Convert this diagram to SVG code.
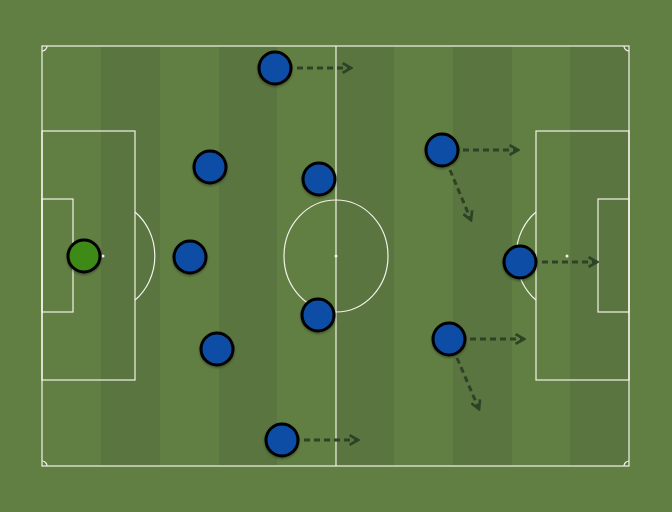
<svg xmlns="http://www.w3.org/2000/svg" width="672" height="512" viewBox="0 0 672 512">
<defs>
<style>
.line{fill:none;stroke:#f2f2ea;stroke-width:1.2}
.stripe{fill:#5a753f}
.player{fill:#0b4ea6;stroke:#000;stroke-width:3}
.gk{fill:#3c8a16;stroke:#000;stroke-width:3}
.run{fill:none;stroke:#2e4227;stroke-width:3;stroke-dasharray:6 4;marker-end:url(#ah)}
</style>
<marker id="ah" viewBox="0 0 10 10" refX="8" refY="5" markerWidth="4" markerHeight="4" orient="auto" markerUnits="strokeWidth">
<path d="M1,1 L8,5 L1,9" fill="none" stroke="#2e4227" stroke-width="2.2"/>
</marker>
<filter id="sh" x="-30%" y="-30%" width="160%" height="160%">
<feDropShadow dx="0" dy="1.5" stdDeviation="1.2" flood-color="#000" flood-opacity="0.35"/>
</filter>
</defs>
<rect x="0" y="0" width="672" height="512" fill="#627f43"/>
<g id="pitch">
<rect class="stripe" x="101" y="46" width="59" height="420"/>
<rect class="stripe" x="219" y="46" width="58" height="420"/>
<rect class="stripe" x="336" y="46" width="58" height="420"/>
<rect class="stripe" x="453" y="46" width="59" height="420"/>
<rect class="stripe" x="570" y="46" width="59" height="420"/>
<rect class="line" x="42" y="46" width="587" height="420"/>
<line class="line" x1="336" y1="46" x2="336" y2="466"/>
<ellipse class="line" cx="336" cy="256" rx="52" ry="56"/>
<circle cx="336" cy="256" r="1.5" fill="#f2f2ea"/>
<rect class="line" x="42" y="131" width="93" height="249"/>
<rect class="line" x="42" y="199" width="31" height="113"/>
<circle cx="103" cy="256" r="1.5" fill="#f2f2ea"/>
<path class="line" d="M135,212 A52,56 0 0 1 135,300"/>
<rect class="line" x="536" y="131" width="93" height="249"/>
<rect class="line" x="598" y="199" width="31" height="113"/>
<circle cx="567" cy="256" r="1.5" fill="#f2f2ea"/>
<path class="line" d="M536,212 A52,56 0 0 0 536,300"/>
<path class="line" d="M42,51 A5,5 0 0 0 47,46"/>
<path class="line" d="M624,46 A5,5 0 0 0 629,51"/>
<path class="line" d="M47,466 A5,5 0 0 0 42,461"/>
<path class="line" d="M629,461 A5,5 0 0 0 624,466"/>
</g>
<g id="connectors">
<line class="run" x1="297" y1="68" x2="351" y2="68"/>
<line class="run" x1="463" y1="150" x2="518" y2="150"/>
<line class="run" x1="450" y1="170" x2="471" y2="220"/>
<line class="run" x1="542" y1="262" x2="597" y2="262"/>
<line class="run" x1="470" y1="339" x2="524" y2="339"/>
<line class="run" x1="457" y1="358" x2="479" y2="409"/>
<line class="run" x1="304" y1="440" x2="358" y2="440"/>
</g>
<g id="gk" filter="url(#sh)"><circle class="gk" cx="84" cy="256" r="16"/></g>
<g id="p1" filter="url(#sh)"><circle class="player" cx="275" cy="68" r="16"/></g>
<g id="p2" filter="url(#sh)"><circle class="player" cx="210" cy="167" r="16"/></g>
<g id="p3" filter="url(#sh)"><circle class="player" cx="190" cy="257" r="16"/></g>
<g id="p4" filter="url(#sh)"><circle class="player" cx="217" cy="349" r="16"/></g>
<g id="p5" filter="url(#sh)"><circle class="player" cx="319" cy="179" r="16"/></g>
<g id="p6" filter="url(#sh)"><circle class="player" cx="318" cy="315" r="16"/></g>
<g id="p7" filter="url(#sh)"><circle class="player" cx="282" cy="440" r="16"/></g>
<g id="p8" filter="url(#sh)"><circle class="player" cx="442" cy="150" r="16"/></g>
<g id="p9" filter="url(#sh)"><circle class="player" cx="520" cy="262" r="16"/></g>
<g id="p10" filter="url(#sh)"><circle class="player" cx="449" cy="339" r="16"/></g>
</svg>
